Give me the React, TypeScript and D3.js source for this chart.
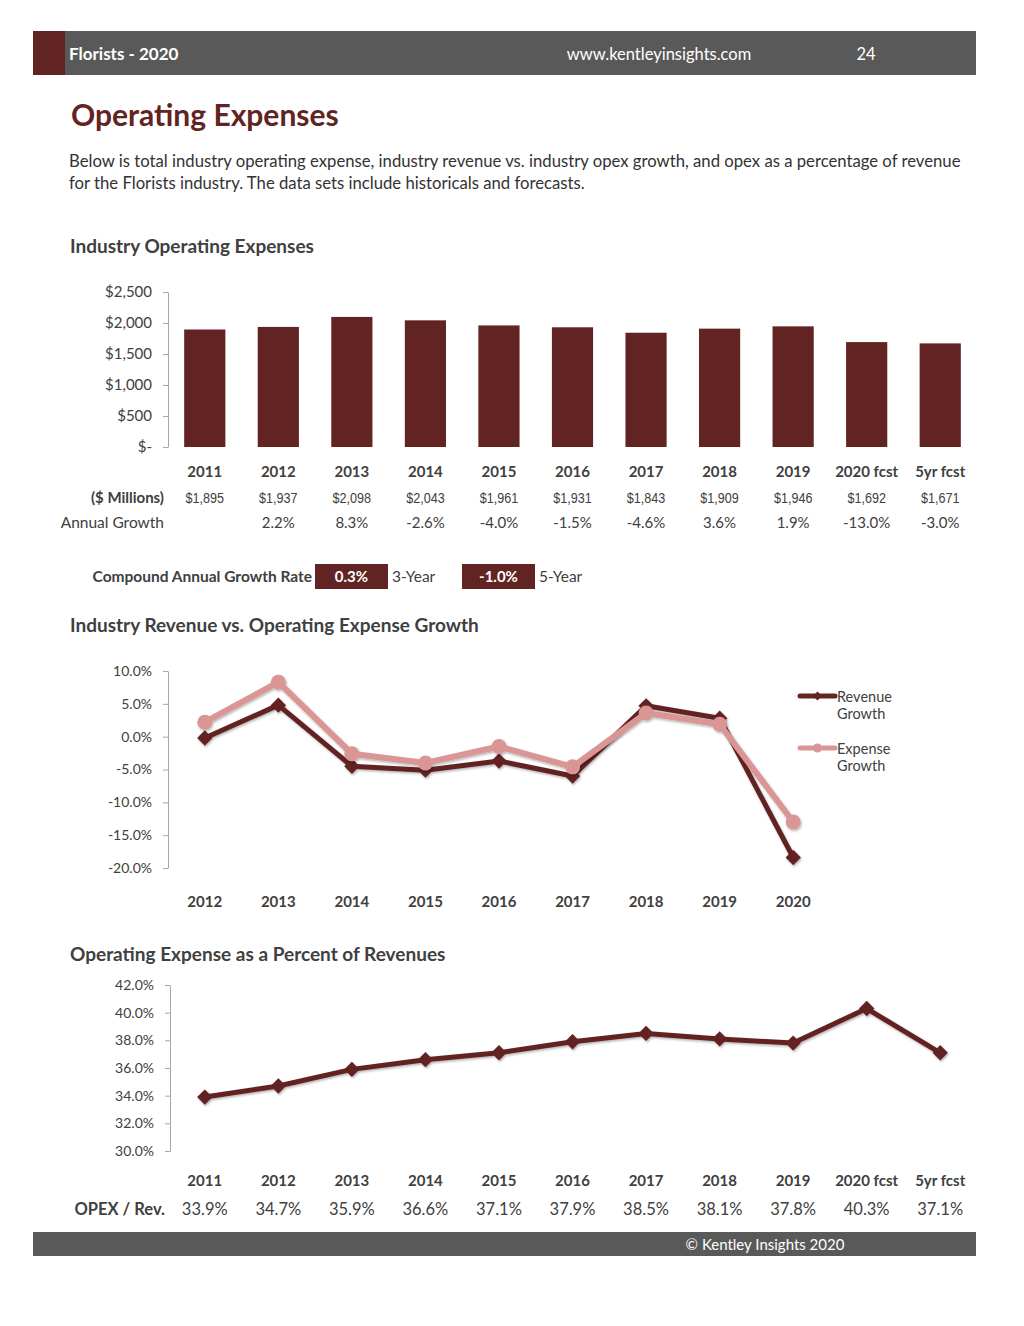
import { useRef, useEffect } from "react";
import * as d3 from "d3";

const categories = ["2011", "2012", "2013", "2014", "2015", "2016", "2017", "2018", "2019", "2020 fcst", "5yr fcst"];
const opex = [1895, 1937, 2098, 2043, 1961, 1931, 1843, 1909, 1946, 1692, 1671];
const opexLabels = ["$1,895", "$1,937", "$2,098", "$2,043", "$1,961", "$1,931", "$1,843", "$1,909", "$1,946", "$1,692", "$1,671"];
const annualGrowth = ["", "2.2%", "8.3%", "-2.6%", "-4.0%", "-1.5%", "-4.6%", "3.6%", "1.9%", "-13.0%", "-3.0%"];
const barTicks = [0, 500, 1000, 1500, 2000, 2500];

const cagrValues = ["0.3%", "-1.0%"];
const cagrLabels = ["3-Year", "5-Year"];

const growthYears = ["2012", "2013", "2014", "2015", "2016", "2017", "2018", "2019", "2020"];
const revenueGrowth = [-0.2, 4.8, -4.5, -5.1, -3.7, -6.0, 4.7, 2.8, -18.4];
const expenseGrowth = [2.2, 8.3, -2.6, -4.0, -1.5, -4.6, 3.6, 1.9, -13.0];
const growthTicks = [10, 5, 0, -5, -10, -15, -20];

const opexPctRev = [33.9, 34.7, 35.9, 36.6, 37.1, 37.9, 38.5, 38.1, 37.8, 40.3, 37.1];
const pctTicks = [42, 40, 38, 36, 34, 32, 30];

const DARK = "#622423";
const PINK = "#d99694";
const GREY = "#595959";
const TEXT = "#404040";
const AXIS = "#a6a6a6";
const FONT = "Lato, 'Open Sans', sans-serif";
const NARROW = "'Liberation Sans', Arial, sans-serif";

const W = 1024;
const H = 1326;

const App = () => {
  const svgRef = useRef<SVGSVGElement | null>(null);

  useEffect(() => {
    if (!svgRef.current) return;
    const svg = d3.select(svgRef.current);
    svg.selectAll("*").remove();
    svg.style("font-family", FONT);

    const defs = svg.append("defs");
    const f = defs.append("filter").attr("id", "shadow").attr("x", "-20%").attr("y", "-20%").attr("width", "140%").attr("height", "140%");
    f.append("feDropShadow").attr("dx", 1).attr("dy", 1.5).attr("stdDeviation", 1.2).attr("flood-color", "#000").attr("flood-opacity", 0.3);

    // header bar
    svg.append("rect").attr("x", 33).attr("y", 31).attr("width", 943).attr("height", 44).attr("fill", GREY);
    svg.append("rect").attr("x", 33).attr("y", 31).attr("width", 32).attr("height", 44).attr("fill", DARK);
    svg.append("text").attr("x", 69).attr("y", 60).attr("fill", "#fff").attr("font-size", 17).attr("font-weight", 700).text("Florists - 2020");
    svg.append("text").attr("x", 659).attr("y", 60).attr("fill", "#fff").attr("font-size", 16.5).attr("text-anchor", "middle").text("www.kentleyinsights.com");
    svg.append("text").attr("x", 866).attr("y", 60).attr("fill", "#fff").attr("font-size", 16.5).attr("text-anchor", "middle").text("24");

    svg.append("text").attr("x", 71).attr("y", 126).attr("fill", DARK).attr("font-size", 30).attr("font-weight", 700).text("Operating Expenses");
    svg.append("text").attr("x", 69).attr("y", 167).attr("fill", "#333").attr("font-size", 16.7)
      .text("Below is total industry operating expense, industry revenue vs. industry opex growth, and opex as a percentage of revenue");
    svg.append("text").attr("x", 69).attr("y", 189).attr("fill", "#333").attr("font-size", 16.7)
      .text("for the Florists industry. The data sets include historicals and forecasts.");

    const heading = (y: number, t: string) =>
      svg.append("text").attr("x", 70).attr("y", y).attr("fill", TEXT).attr("font-size", 19).attr("font-weight", 700).text(t);

    const x = d3.scaleBand<string>().domain(categories).range([168, 977]).paddingInner(0.44).paddingOuter(0.22);
    const cx = (c: string) => (x(c) ?? 0) + x.bandwidth() / 2;

    const yAxis = (g: d3.Selection<SVGGElement, unknown, null, undefined>, scale: d3.ScaleLinear<number, number>, ticks: number[], fmt: (v: number) => string, size: number) => {
      g.call(d3.axisLeft(scale).tickValues(ticks).tickFormat((d) => fmt(d as number)).tickSize(5).tickSizeOuter(0).tickPadding(11));
      g.select(".domain").attr("stroke", AXIS);
      g.selectAll(".tick line").attr("stroke", AXIS);
      g.selectAll(".tick text").attr("fill", TEXT).attr("font-size", size).attr("font-family", FONT);
    };

    // Chart 1: bars
    heading(253, "Industry Operating Expenses");
    const yBar = d3.scaleLinear().domain([0, 2500]).range([447, 292]);
    svg.append("g").selectAll("rect").data(opex).join("rect")
      .attr("x", (_, i) => x(categories[i]) ?? 0)
      .attr("y", (d) => yBar(d))
      .attr("width", x.bandwidth())
      .attr("height", (d) => yBar(0) - yBar(d))
      .attr("fill", DARK);
    yAxis(svg.append("g").attr("transform", "translate(168,0)"), yBar, barTicks, (v) => (v === 0 ? "$-" : d3.format("$,")(v)), 15);

    svg.append("g").selectAll("text").data(categories).join("text")
      .attr("x", (d) => cx(d)).attr("y", 477).attr("text-anchor", "middle")
      .attr("fill", TEXT).attr("font-size", 15).attr("font-weight", 700).text((d) => d);
    svg.append("text").attr("x", 164).attr("y", 503).attr("text-anchor", "end").attr("fill", TEXT).attr("font-size", 15).attr("font-weight", 700).text("($ Millions)");
    // narrow value labels: horizontally condensed sans
    svg.append("g").selectAll("text").data(opexLabels).join("text")
      .attr("transform", (_, i) => `translate(${cx(categories[i])},503) scale(0.84,1)`)
      .attr("text-anchor", "middle")
      .attr("fill", TEXT).attr("font-size", 15).attr("font-family", NARROW).text((d) => d);
    svg.append("text").attr("x", 164).attr("y", 528).attr("text-anchor", "end").attr("fill", TEXT).attr("font-size", 15.5).text("Annual Growth");
    svg.append("g").selectAll("text").data(annualGrowth).join("text")
      .attr("x", (_, i) => cx(categories[i])).attr("y", 528).attr("text-anchor", "middle")
      .attr("fill", TEXT).attr("font-size", 15).text((d) => d);

    // CAGR row
    svg.append("text").attr("x", 312).attr("y", 582).attr("text-anchor", "end").attr("fill", TEXT).attr("font-size", 15.5).attr("font-weight", 700).text("Compound Annual Growth Rate");
    const boxX = [315, 462];
    cagrValues.forEach((v, i) => {
      svg.append("rect").attr("x", boxX[i]).attr("y", 564).attr("width", 73).attr("height", 25).attr("fill", DARK);
      svg.append("text").attr("x", boxX[i] + 36.5).attr("y", 582).attr("text-anchor", "middle").attr("fill", "#fff").attr("font-size", 15).attr("font-weight", 700).text(v);
      svg.append("text").attr("x", boxX[i] + 77).attr("y", 582).attr("fill", TEXT).attr("font-size", 15.5).text(cagrLabels[i]);
    });

    // Chart 2: growth lines
    heading(632, "Industry Revenue vs. Operating Expense Growth");
    const xg = d3.scaleBand<string>().domain(growthYears).range([168, 830]).padding(0);
    const gx = (c: string) => (xg(c) ?? 0) + xg.bandwidth() / 2;
    const yG = d3.scaleLinear().domain([-20, 10]).range([868, 671]);
    yAxis(svg.append("g").attr("transform", "translate(168,0)"), yG, growthTicks, (v) => `${v.toFixed(1)}%`, 14);

    const lineG = d3.line<number>().x((_, i) => gx(growthYears[i])).y((d) => yG(d));
    const revG = svg.append("g").attr("filter", "url(#shadow)");
    revG.append("path").datum(revenueGrowth).attr("d", lineG).attr("fill", "none").attr("stroke", DARK).attr("stroke-width", 5).attr("stroke-linejoin", "round");
    revG.selectAll("path.m").data(revenueGrowth).join("path").attr("class", "m")
      .attr("d", d3.symbol(d3.symbolDiamond2, 150)())
      .attr("transform", (d, i) => `translate(${gx(growthYears[i])},${yG(d)})`).attr("fill", DARK);
    const expG = svg.append("g").attr("filter", "url(#shadow)");
    expG.append("path").datum(expenseGrowth).attr("d", lineG).attr("fill", "none").attr("stroke", PINK).attr("stroke-width", 6).attr("stroke-linejoin", "round");
    expG.selectAll("circle").data(expenseGrowth).join("circle")
      .attr("cx", (_, i) => gx(growthYears[i])).attr("cy", (d) => yG(d)).attr("r", 7.5).attr("fill", PINK);

    svg.append("g").selectAll("text").data(growthYears).join("text")
      .attr("x", (d) => gx(d)).attr("y", 907).attr("text-anchor", "middle")
      .attr("fill", TEXT).attr("font-size", 15).attr("font-weight", 700).text((d) => d);

    // legend
    const legend = [
      { name: ["Revenue", "Growth"], color: DARK, y: 696, marker: "diamond" },
      { name: ["Expense", "Growth"], color: PINK, y: 748, marker: "circle" },
    ];
    legend.forEach((l) => {
      svg.append("line").attr("x1", 800).attr("x2", 835).attr("y1", l.y).attr("y2", l.y).attr("stroke", l.color).attr("stroke-width", 5).attr("stroke-linecap", "round");
      if (l.marker === "diamond") {
        svg.append("path").attr("d", d3.symbol(d3.symbolDiamond2, 50)()).attr("transform", `translate(817.5,${l.y})`).attr("fill", l.color);
      } else {
        svg.append("circle").attr("cx", 817.5).attr("cy", l.y).attr("r", 4.5).attr("fill", l.color);
      }
      svg.append("text").attr("x", 837).attr("y", l.y + 6).attr("fill", TEXT).attr("font-size", 14.5).text(l.name[0]);
      svg.append("text").attr("x", 837).attr("y", l.y + 23).attr("fill", TEXT).attr("font-size", 14.5).text(l.name[1]);
    });

    // Chart 3: opex % of revenue
    heading(961, "Operating Expense as a Percent of Revenues");
    const yP = d3.scaleLinear().domain([30, 42]).range([1151, 985]);
    yAxis(svg.append("g").attr("transform", "translate(170,0)"), yP, pctTicks, (v) => `${v.toFixed(1)}%`, 14);
    const lineP = d3.line<number>().x((_, i) => cx(categories[i])).y((d) => yP(d));
    const pG = svg.append("g").attr("filter", "url(#shadow)");
    pG.append("path").datum(opexPctRev).attr("d", lineP).attr("fill", "none").attr("stroke", DARK).attr("stroke-width", 5).attr("stroke-linejoin", "round");
    pG.selectAll("path.m").data(opexPctRev).join("path").attr("class", "m")
      .attr("d", d3.symbol(d3.symbolDiamond2, 150)())
      .attr("transform", (d, i) => `translate(${cx(categories[i])},${yP(d)})`).attr("fill", DARK);

    svg.append("g").selectAll("text").data(categories).join("text")
      .attr("x", (d) => cx(d)).attr("y", 1186).attr("text-anchor", "middle")
      .attr("fill", TEXT).attr("font-size", 15).attr("font-weight", 700).text((d) => d);
    svg.append("text").attr("x", 165).attr("y", 1215).attr("text-anchor", "end").attr("fill", TEXT).attr("font-size", 16.5).attr("font-weight", 700).text("OPEX / Rev.");
    svg.append("g").selectAll("text").data(opexPctRev).join("text")
      .attr("x", (_, i) => cx(categories[i])).attr("y", 1215).attr("text-anchor", "middle")
      .attr("fill", TEXT).attr("font-size", 16.5).text((d) => `${d.toFixed(1)}%`);

    // footer
    svg.append("rect").attr("x", 33).attr("y", 1232).attr("width", 943).attr("height", 24).attr("fill", GREY);
    svg.append("text").attr("x", 765).attr("y", 1250).attr("text-anchor", "middle").attr("fill", "#fff").attr("font-size", 15).text("© Kentley Insights 2020");
  }, []);

  return (
    <div style={{ position: "absolute", left: 0, top: 0 }}>
      <svg ref={svgRef} width={W} height={H} style={{ display: "block", background: "#fff" }}></svg>
    </div>
  );
};

export default App;
